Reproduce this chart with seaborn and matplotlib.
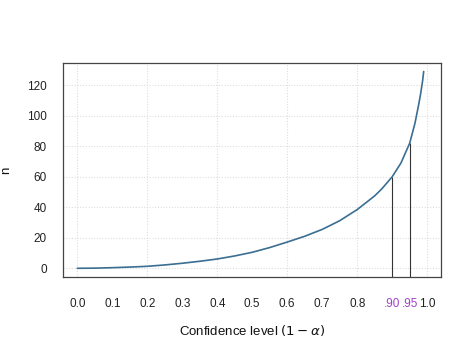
import matplotlib
matplotlib.use("Agg")
import matplotlib.pyplot as plt
import seaborn as sns
import numpy as np

conf = [0.0, 0.05, 0.1, 0.15, 0.2, 0.25, 0.3, 0.35, 0.4, 0.45, 0.5, 0.55, 0.6, 0.65,
        0.7, 0.75, 0.8, 0.85, 0.87, 0.9, 0.925, 0.95, 0.965, 0.975, 0.981, 0.987, 0.99]
n_vals = [0.0, 0.1, 0.4, 0.8, 1.3, 2.2, 3.3, 4.6, 6.1, 8.1, 10.5, 13.6, 17.2, 21.0,
          25.5, 31.2, 38.5, 47.5, 52.0, 60.0, 69.0, 82.0, 95.0, 106.5, 114.0, 123.0, 129.0]

mark_conf = [0.90, 0.95]
mark_n = [60.0, 82.0]

xticks = [0.0, 0.1, 0.2, 0.3, 0.4, 0.5, 0.6, 0.7, 0.8, 0.9, 0.95, 1.0]
xtick_labels = ["0.0", "0.1", "0.2", "0.3", "0.4", "0.5", "0.6", "0.7", "0.8", ".90", ".95", "1.0"]
xgrid = [0.0, 0.2, 0.4, 0.6, 0.8, 1.0]
yticks = [0, 20, 40, 60, 80, 100, 120]

sns.set_style("white")
plt.rcParams['font.family'] = ['Liberation Sans', 'DejaVu Sans']

fig = plt.figure(figsize=(4.74, 3.56), dpi=100)
ax = fig.add_axes([0.1336, 0.2228, 0.7964, 0.5994])

ylo, yhi = -5.5, 134.4
ax.set_xlim(-0.04, 1.039)
ax.set_ylim(ylo, yhi)

for g in xgrid:
    ax.axvline(g, color="#dddddd", lw=0.8, ls=(0, (1, 1.5)), zorder=0)
for g in yticks:
    ax.axhline(g, color="#dddddd", lw=0.8, ls=(0, (1, 1.5)), zorder=0)

ax.vlines(mark_conf, ylo, mark_n, color="#333333", lw=0.8, zorder=2)

sns.lineplot(x=conf, y=n_vals, ax=ax, color="#3a6e92", lw=1.2, zorder=3)

ax.set_xticks(xticks)
ax.set_xticklabels(xtick_labels)
ax.set_yticks(yticks)
ax.tick_params(axis="both", direction="in", length=5, width=0.8, color="#333333",
               labelsize=8.5, labelcolor="#222222")
ax.tick_params(axis="x", pad=15)
ax.tick_params(axis="y", pad=12)
for lab, t in zip(ax.get_xticklabels(), xticks):
    if t in (0.9, 0.95):
        lab.set_color("#a040c8")

for s in ax.spines.values():
    s.set_color("#444444")
    s.set_linewidth(0.9)

ax.set_xlabel(r"Confidence level $(1-\alpha)$", fontsize=9.5, color="#111111", labelpad=10)
ax.set_ylabel("n", fontsize=9.5, color="#111111", rotation=90)
ax.yaxis.set_label_coords(-0.135, 0.5)

fig.savefig("out.png", dpi=100)
